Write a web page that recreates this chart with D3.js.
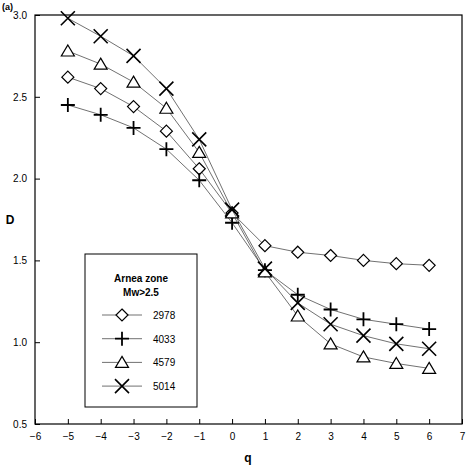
<!DOCTYPE html>
<html><head><meta charset="utf-8">
<script src="https://cdn.jsdelivr.net/npm/d3@7"></script>
<style>body{margin:0;background:#fff}text{font-family:Arial,"Liberation Sans",sans-serif}</style>
</head><body>
<script>
var qValues = [-5,-4,-3,-2,-1,0,1,2,3,4,5,6];
var d2978 = [2.62,2.55,2.44,2.29,2.06,1.79,1.59,1.55,1.53,1.50,1.48,1.47];
var d4033 = [2.45,2.39,2.31,2.18,1.99,1.73,1.44,1.29,1.20,1.14,1.11,1.08];
var d4579 = [2.78,2.70,2.59,2.43,2.16,1.79,1.43,1.16,0.99,0.91,0.87,0.84];
var d5014 = [2.98,2.87,2.75,2.55,2.24,1.81,1.45,1.24,1.11,1.04,0.99,0.96];
var xTicks = [-6,-5,-4,-3,-2,-1,0,1,2,3,4,5,6,7];
var yTicks = [0.5,1.0,1.5,2.0,2.5,3.0];

var series = [
    {name:'2978', values:d2978, sym:'diamond'},
    {name:'4033', values:d4033, sym:'plus'},
    {name:'4579', values:d4579, sym:'triangle'},
    {name:'5014', values:d5014, sym:'cross'}
];

var svg = d3.select('body').append('svg').attr('width',474).attr('height',473);
var x = d3.scaleLinear().domain([-6,7]).range([35,462]),
    y = d3.scaleLinear().domain([0.5,3.0]).range([424,15]);

// frame
svg.append('rect').attr('x',35).attr('y',15).attr('width',427).attr('height',409)
    .attr('fill','none').attr('stroke','#000').attr('stroke-width',1.2);

svg.append('g').attr('transform','translate(0,424)')
    .call(d3.axisBottom(x).tickValues(xTicks).tickSize(-5).tickPadding(9).tickFormat(d3.format('d')))
    .call(function(g){g.select('.domain').remove();g.selectAll('text').attr('font-size',10);});
svg.append('g').attr('transform','translate(35,0)')
    .call(d3.axisLeft(y).tickValues(yTicks).tickSize(-5).tickPadding(8).tickFormat(d3.format('.1f')))
    .call(function(g){g.select('.domain').remove();g.selectAll('text').attr('font-size',10);});

svg.append('text').attr('x',248).attr('y',462).attr('text-anchor','middle')
    .attr('font-weight','bold').attr('font-size',12).text('q');
svg.append('text').attr('x',10).attr('y',224).attr('text-anchor','middle')
    .attr('font-weight','bold').attr('font-size',12).text('D');
svg.append('text').attr('x',2).attr('y',10).attr('font-weight','bold').attr('font-size',9).text('(a)');

function drawSym(g, sym, cx, cy) {
    if (sym === 'diamond') {
        g.append('path').attr('d','M'+cx+','+(cy-6)+'L'+(cx+6)+','+cy+'L'+cx+','+(cy+6)+'L'+(cx-6)+','+cy+'Z')
            .attr('fill','#fff').attr('stroke','#000').attr('stroke-width',1.2);
    } else if (sym === 'triangle') {
        g.append('path').attr('d','M'+cx+','+(cy-6)+'L'+(cx+6.5)+','+(cy+5)+'L'+(cx-6.5)+','+(cy+5)+'Z')
            .attr('fill','#fff').attr('stroke','#000').attr('stroke-width',1.2);
    } else if (sym === 'plus') {
        g.append('path').attr('d','M'+(cx-7)+','+cy+'H'+(cx+7)+'M'+cx+','+(cy-7)+'V'+(cy+7))
            .attr('stroke','#000').attr('stroke-width',1.8);
    } else {
        g.append('path').attr('d','M'+(cx-7)+','+(cy-7)+'L'+(cx+7)+','+(cy+7)+'M'+(cx-7)+','+(cy+7)+'L'+(cx+7)+','+(cy-7))
            .attr('stroke','#000').attr('stroke-width',1.6);
    }
}

var line = d3.line().x(function(d,i){return x(qValues[i]);}).y(function(d){return y(d);});
series.forEach(function(s){
    svg.append('path').datum(s.values).attr('d',line).attr('fill','none')
        .attr('stroke','#333').attr('stroke-width',0.7);
    var g = svg.append('g');
    s.values.forEach(function(v,i){ drawSym(g, s.sym, x(qValues[i]), y(v)); });
});

// legend
var lg = svg.append('g');
lg.append('rect').attr('x',85).attr('y',254).attr('width',112).attr('height',153)
    .attr('fill','#fff').attr('stroke','#000').attr('stroke-width',1);
lg.append('text').attr('x',141).attr('y',282).attr('text-anchor','middle').attr('font-weight','bold')
    .attr('font-size',10).text('Arnea zone');
lg.append('text').attr('x',141).attr('y',296).attr('text-anchor','middle').attr('font-weight','bold')
    .attr('font-size',10).text('Mw>2.5');
series.forEach(function(s,i){
    var cy = 315 + i*23.7;
    lg.append('line').attr('x1',102).attr('x2',142).attr('y1',cy).attr('y2',cy)
        .attr('stroke','#333').attr('stroke-width',0.7);
    drawSym(lg, s.sym, 122, cy);
    lg.append('text').attr('x',153).attr('y',cy+4).attr('font-size',10).text(s.name);
});
</script>
</body></html>
